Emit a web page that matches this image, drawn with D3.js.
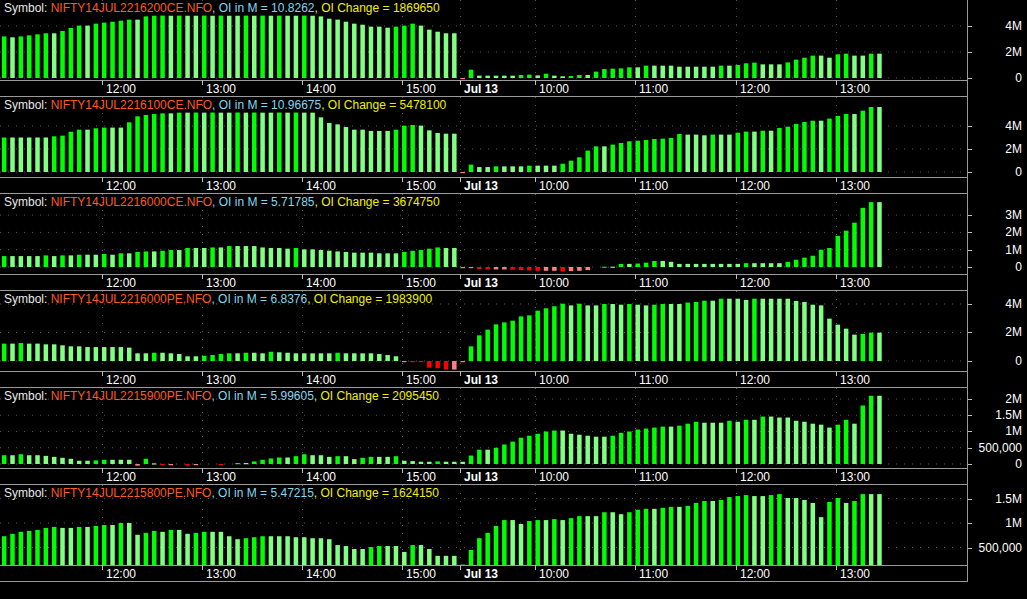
<!DOCTYPE html>
<html><head><meta charset="utf-8">
<script src="https://cdn.jsdelivr.net/npm/d3@7"></script>
<style>html,body{margin:0;padding:0;background:#000;overflow:hidden}</style>
</head><body>
<svg id="c" width="1027" height="599"></svg>
<script>
// ---- data (values in millions of contracts, OI change) ----
const symbols = ["NIFTY14JUL2216200CE.NFO","NIFTY14JUL2216100CE.NFO","NIFTY14JUL2216000CE.NFO","NIFTY14JUL2216000PE.NFO","NIFTY14JUL2215900PE.NFO","NIFTY14JUL2215800PE.NFO"];
const oiInM = ["10.8262","10.96675","5.71785","6.8376","5.99605","5.47215"];
const oiChange = ["1869650","5478100","3674750","1983900","2095450","1624150"];

const s1 = [3.2,3.13,3.2,3.28,3.36,3.44,3.44,3.62,3.85,4.03,4.03,4.18,4.26,4.33,4.41,4.49,4.49,4.74,
 4.79,4.8,4.79,4.8,4.79,4.79,4.8,4.79,4.8,4.79,4.79,4.8,4.79,4.8,4.79,4.8,4.79,4.79,4.8,4.79,
 4.74,4.56,4.49,4.33,4.18,4.1,3.95,3.95,3.87,3.95,4.03,4.18,4.03,3.72,3.56,3.44,3.44,
 -0.05,0.64,0.18,0.18,0.18,0.18,0.18,0.23,0.26,0.2,0.33,0.18,0.13,0.15,0.23,0.23,
 0.49,0.69,0.72,0.74,0.82,0.82,0.95,0.95,0.95,0.95,0.87,0.87,0.87,0.87,0.87,0.95,0.95,1.0,1.13,1.18,
 1.05,1.05,1.05,1.2,1.41,1.56,1.72,1.72,1.56,1.82,1.87,1.72,1.72,1.87,1.87];
const s2 = [3.0,3.0,3.0,3.0,3.0,3.0,3.1,3.16,3.5,3.68,3.68,3.8,3.86,3.86,3.86,4.32,4.84,4.96,5.04,5.1,5.1,
 5.16,5.16,5.17,5.16,5.17,5.16,5.16,5.17,5.16,5.17,5.16,5.16,5.17,5.16,5.17,5.16,5.16,
 4.75,4.26,4.14,3.91,3.68,3.68,3.57,3.57,3.57,3.68,4.03,4.09,4.03,3.62,3.39,3.33,3.33,
 -0.1,0.64,0.43,0.43,0.49,0.49,0.49,0.49,0.55,0.55,0.55,0.55,0.72,0.99,1.28,1.86,2.23,2.23,2.38,2.52,
 2.67,2.72,2.78,2.87,2.9,2.96,3.3,3.25,3.25,3.19,3.25,3.25,3.25,3.42,3.51,3.51,3.59,3.59,3.83,3.94,
 4.17,4.35,4.46,4.46,4.64,4.87,5.04,5.04,5.33,5.65,5.65];
const s3 = [0.63,0.63,0.63,0.63,0.63,0.67,0.63,0.67,0.67,0.71,0.71,0.71,0.75,0.71,0.79,0.79,0.87,0.9,0.9,0.94,
 0.98,0.98,1.1,1.1,1.1,1.13,1.13,1.21,1.21,1.21,1.21,1.13,1.1,1.1,1.06,1.1,1.02,1.02,0.98,0.94,
 0.9,0.87,0.83,0.83,0.83,0.79,0.79,0.79,0.87,0.94,0.98,1.06,1.13,1.1,1.1,
 -0.05,-0.05,-0.12,-0.14,-0.14,-0.14,-0.16,-0.18,-0.2,-0.22,-0.22,-0.22,-0.26,-0.24,-0.22,-0.18,
 0,0.02,0.02,0.18,0.18,0.2,0.25,0.35,0.35,0.3,0.18,0.18,0.18,0.18,0.18,0.18,0.18,0.18,0.22,0.22,
 0.22,0.22,0.22,0.3,0.42,0.54,0.65,1.0,1.1,1.8,2.1,2.56,3.42,3.75,3.75];
const s4 = [1.22,1.22,1.26,1.22,1.22,1.17,1.17,1.1,1.03,1.03,0.98,0.98,0.98,0.98,0.98,0.94,0.54,0.54,0.58,0.58,
 0.54,0.49,0.33,0.33,0.37,0.42,0.49,0.54,0.54,0.58,0.58,0.54,0.65,0.61,0.58,0.54,0.54,0.54,0.54,0.54,
 0.58,0.54,0.54,0.54,0.54,0.49,0.42,0.33,-0.03,-0.05,-0.07,-0.47,-0.5,-0.6,-0.6,
 -0.02,1.03,1.8,2.2,2.57,2.71,2.83,3.13,3.2,3.53,3.7,3.84,4.02,3.9,4.02,3.9,3.9,4.0,4.0,3.95,
 4.0,3.95,3.9,3.95,4.0,4.0,4.0,4.1,4.14,4.23,4.23,4.37,4.37,4.37,4.28,4.37,4.37,4.37,4.37,4.37,
 4.21,4.14,3.95,3.9,2.97,2.55,2.27,1.85,1.9,1.99,1.99];
const s5 = [0.27,0.27,0.3,0.27,0.27,0.25,0.22,0.19,0.16,0.1,0.1,0.11,0.13,0.13,0.13,0.13,-0.05,0.16,0.02,-0.03,
 -0.03,0,-0.05,-0.02,0,0,-0.02,0,0.03,0.03,0.08,0.13,0.17,0.2,0.2,0.24,0.3,0.27,0.27,0.22,
 0.24,0.24,0.15,0.19,0.22,0.22,0.22,0.24,0.1,0.09,0.07,0.07,0.08,0.07,0.07,
 0.07,0.26,0.44,0.44,0.5,0.6,0.69,0.81,0.87,0.93,1.0,1.03,1.03,0.93,0.9,0.87,0.84,0.84,0.87,0.96,
 1.0,1.06,1.09,1.12,1.15,1.15,1.18,1.24,1.3,1.27,1.27,1.27,1.33,1.3,1.36,1.36,1.46,1.46,1.43,1.43,
 1.33,1.3,1.24,1.21,1.12,1.21,1.36,1.24,1.8,2.1,2.1];
const s6 = [0.73,0.78,0.82,0.84,0.86,0.9,0.92,0.9,0.9,0.92,0.92,0.94,0.96,0.96,1.0,1.0,0.76,0.8,0.84,0.82,
 0.86,0.86,0.78,0.8,0.82,0.82,0.82,0.73,0.67,0.69,0.71,0.73,0.73,0.73,0.73,0.71,0.71,0.69,0.69,0.67,
 0.55,0.53,0.47,0.47,0.51,0.53,0.53,0.53,0.41,0.55,0.55,0.47,0.33,0.33,0.33,
 0.15,0.45,0.69,0.8,0.94,1.06,1.06,0.98,1.04,1.06,1.06,1.08,1.06,1.1,1.14,1.14,1.14,1.22,1.22,1.18,
 1.22,1.27,1.29,1.29,1.31,1.33,1.33,1.35,1.41,1.45,1.45,1.47,1.53,1.55,1.57,1.55,1.55,1.57,1.59,1.51,
 1.51,1.47,1.41,1.12,1.43,1.51,1.41,1.45,1.59,1.59,1.59];
const seriesList = [s1,s2,s3,s4,s5,s6];

const yDomains = [[-0.154,6.0],[-0.435,6.52],[-0.405,4.22],[-0.70,4.91],[-0.123,2.338],[0.143,1.776]];
const yTicks = [[0,2,4],[0,2,4],[0,1,2,3],[0,2,4],[0,0.5,1,1.5,2],[0.5,1,1.5]];

const xTickIndex = [12,24,36,48,55,64,76,88,100];
const xTickLabels = ["12:00","13:00","14:00","15:00","Jul 13","10:00","11:00","12:00","13:00"];
const totalSlots = 116;

// ---- drawing ----
const svg = d3.select("#c");
const W = 967, panelH = 97, plotH = 80;
const x = d3.scaleBand().domain(d3.range(totalSlots)).range([0, W]).paddingInner(0.46).paddingOuter(0.23);
const fmt = v => v >= 1 ? (v + "M") : (v === 0 ? "0" : d3.format(",")(Math.round(v * 1e6)));
const BR = "#00ff00", LT = "#80ff80", RD = "#ff0000", PK = "#ff8080";

seriesList.forEach((vals, p) => {
  const g = svg.append("g").attr("transform", `translate(0,${p * panelH})`);
  const y = d3.scaleLinear().domain(yDomains[p]).range([plotH, 0]);
  // grids
  g.selectAll(".hg").data(yTicks[p]).join("line")
    .attr("x1", 0).attr("x2", W).attr("y1", d => y(d)).attr("y2", d => y(d))
    .attr("stroke", "#5a5a5a").attr("stroke-dasharray", "1,7");
  g.selectAll(".vg").data(xTickIndex).join("line")
    .attr("x1", d => Math.round(x(d)) + 0.5).attr("x2", d => Math.round(x(d)) + 0.5)
    .attr("y1", 0).attr("y2", plotH).attr("stroke", "#5a5a5a").attr("stroke-dasharray", "1,7");
  // bars
  const base = Math.min(plotH, y(0));
  g.selectAll(".bar").data(vals).join("rect")
    .attr("x", (d, i) => x(i)).attr("width", x.bandwidth())
    .attr("y", d => Math.min(y(d), base))
    .attr("height", d => Math.max(d === 0 ? 0 : 1.2, Math.abs(Math.min(y(d), plotH) - base)))
    .attr("fill", (d, i) => {
      const up = i === 0 || Math.abs(d) > Math.abs(vals[i - 1]);
      return d < 0 ? (up ? RD : PK) : (up ? BR : LT);
    });
  // title
  const t = g.append("text").attr("x", 4).attr("y", 12)
    .attr("font-family", "Liberation Sans, Arial, sans-serif").attr("font-size", 12);
  t.append("tspan").attr("fill", "#e8e8e8").text("Symbol: ");
  t.append("tspan").attr("fill", "#ff5a1e").text(symbols[p]);
  t.append("tspan").attr("fill", "#80d8f0").text(", OI in M = " + oiInM[p]);
  t.append("tspan").attr("fill", "#f0f000").text(", OI Change = " + oiChange[p]);
  // x axis strip
  g.append("line").attr("x1", 0).attr("x2", W).attr("y1", plotH + 0.5).attr("y2", plotH + 0.5).attr("stroke", "#9a9a9a");
  g.append("line").attr("x1", 0).attr("x2", W).attr("y1", panelH - 0.5).attr("y2", panelH - 0.5).attr("stroke", "#9a9a9a");
  g.selectAll(".xt").data(xTickIndex).join("line")
    .attr("x1", d => Math.round(x(d)) + 0.5).attr("x2", d => Math.round(x(d)) + 0.5)
    .attr("y1", plotH).attr("y2", plotH + 5).attr("stroke", "#bbbbbb");
  g.selectAll(".xl").data(xTickIndex).join("text")
    .attr("x", d => Math.round(x(d)) + 4).attr("y", plotH + 13)
    .attr("fill", "#ffffff").attr("font-family", "Liberation Sans, Arial, sans-serif").attr("font-size", 12)
    .attr("font-weight", (d, i) => xTickLabels[i] === "Jul 13" ? "bold" : "normal")
    .text((d, i) => xTickLabels[i]);
  // y axis
  g.selectAll(".yt").data(yTicks[p]).join("line")
    .attr("x1", W).attr("x2", W + 5).attr("y1", d => Math.round(y(d)) + 0.5).attr("y2", d => Math.round(y(d)) + 0.5)
    .attr("stroke", "#bbbbbb");
  g.selectAll(".yl").data(yTicks[p]).join("text")
    .attr("x", 1022).attr("y", d => y(d) + 4).attr("text-anchor", "end")
    .attr("fill", "#ffffff").attr("font-family", "Liberation Sans, Arial, sans-serif").attr("font-size", 12)
    .text(d => fmt(d));
});
svg.append("line").attr("x1", W + 0.5).attr("x2", W + 0.5).attr("y1", 0).attr("y2", 6 * panelH).attr("stroke", "#9a9a9a");
</script>
</body></html>
